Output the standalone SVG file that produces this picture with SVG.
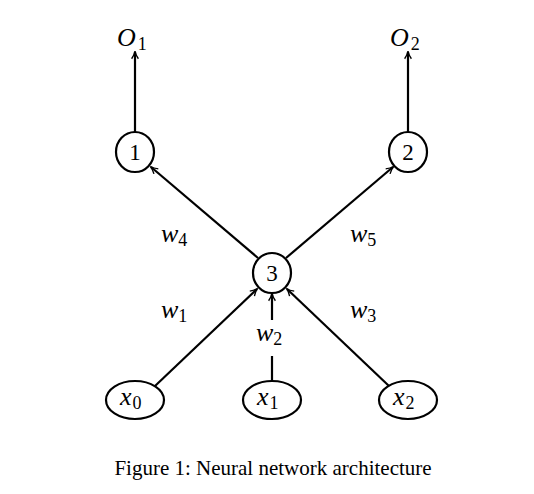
<svg xmlns="http://www.w3.org/2000/svg" width="534" height="494" viewBox="0 0 534 494">
<style>
.n{fill:#fff;stroke:#000;stroke-width:2.2}
.e{fill:none;stroke:#000;stroke-width:2.2}
.m{font-family:"Liberation Serif",serif;font-style:italic;font-size:26px;fill:#000}
.s{font-family:"Liberation Serif",serif;font-style:normal;font-size:18px}
.d{font-family:"Liberation Serif",serif;font-size:23px;fill:#000;text-anchor:middle}
.c{font-family:"Liberation Serif",serif;font-size:21px;fill:#000;text-anchor:middle}
</style>
<defs>
<marker id="b" viewBox="-1 -1 12 12" refX="9" refY="5" markerWidth="9" markerHeight="9" orient="auto" markerUnits="userSpaceOnUse">
<path d="M0,0.5 Q5,4 10,5 Q5,6 0,9.5" fill="none" stroke="#000" stroke-width="1.8"/>
</marker>
</defs>
<g id="connectors">
<line class="e" x1="135" y1="132" x2="135" y2="52" marker-end="url(#b)"/>
<line class="e" x1="408" y1="132" x2="408" y2="52" marker-end="url(#b)"/>
<line class="e" x1="258" y1="258" x2="151" y2="167" marker-end="url(#b)"/>
<line class="e" x1="286" y1="258" x2="393" y2="167" marker-end="url(#b)"/>
<line class="e" x1="155" y1="386" x2="257" y2="289" marker-end="url(#b)"/>
<line class="e" x1="389" y1="386" x2="287" y2="289" marker-end="url(#b)"/>
<line class="e" x1="272" y1="381" x2="272" y2="356"/>
<line class="e" x1="272" y1="320" x2="272" y2="294" marker-end="url(#b)"/>
</g>
<g id="O1"><text class="m" x="117" y="46">O<tspan class="s" dx="2" dy="4">1</tspan></text></g>
<g id="O2"><text class="m" x="390" y="46">O<tspan class="s" dx="2" dy="4">2</tspan></text></g>
<g id="node1"><ellipse class="n" cx="135" cy="152" rx="19" ry="20"/><text class="d" x="135" y="160">1</text></g>
<g id="node2"><ellipse class="n" cx="408" cy="152" rx="19" ry="20"/><text class="d" x="408" y="160">2</text></g>
<g id="node3"><ellipse class="n" cx="272" cy="273" rx="19" ry="20"/><text class="d" x="272" y="281">3</text></g>
<g id="x0"><ellipse class="n" cx="135" cy="400" rx="29" ry="19"/><text class="m" x="120" y="405">x<tspan class="s" dx="1" dy="4">0</tspan></text></g>
<g id="x1"><ellipse class="n" cx="272" cy="400" rx="29" ry="19"/><text class="m" x="257" y="405">x<tspan class="s" dx="1" dy="4">1</tspan></text></g>
<g id="x2"><ellipse class="n" cx="408" cy="400" rx="29" ry="19"/><text class="m" x="393" y="405">x<tspan class="s" dx="1" dy="4">2</tspan></text></g>
<g id="labels">
<text class="m" x="161" y="242">w<tspan class="s" dx="0" dy="4">4</tspan></text>
<text class="m" x="350" y="242">w<tspan class="s" dx="0" dy="4">5</tspan></text>
<text class="m" x="161" y="318">w<tspan class="s" dx="0" dy="4">1</tspan></text>
<text class="m" x="350" y="318">w<tspan class="s" dx="0" dy="4">3</tspan></text>
<text class="m" x="256" y="341">w<tspan class="s" dx="0" dy="4">2</tspan></text>
</g>
<text class="c" x="273" y="475">Figure 1: Neural network architecture</text>
</svg>
